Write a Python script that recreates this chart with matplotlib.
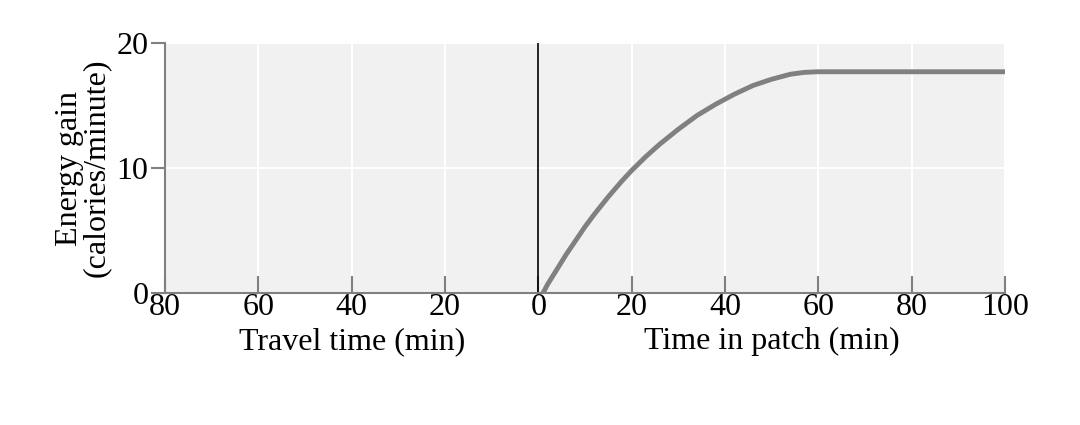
import matplotlib

matplotlib.use("Agg")
import matplotlib.pyplot as plt

plt.rcParams["font.family"] = ["Liberation Serif", "DejaVu Serif"]

# curve (time in patch, energy gain)
patch_time = [1, 2, 4, 6, 8, 10, 12, 15, 18, 20, 23, 26, 30, 34, 38, 42, 46, 50, 54, 57, 60, 70, 80, 90, 100]
energy_gain = [0, 0.7, 1.9, 3.1, 4.2, 5.3, 6.3, 7.7, 9.0, 9.8, 10.9, 11.9, 13.1, 14.2, 15.1, 15.9, 16.6, 17.1, 17.5, 17.65, 17.7, 17.7, 17.7, 17.7, 17.7]
x_ticks = [-80, -60, -40, -20, 0, 20, 40, 60, 80, 100]
y_ticks = [0, 10, 20]

fig = plt.figure(figsize=(10.8, 4.25), dpi=100)
ax = fig.add_axes([165 / 1080, 1 - 293 / 425, 840 / 1080, 250 / 425])
ax.set_facecolor("#f1f1f1")
ax.set_xlim(-80, 100)
ax.set_ylim(0, 20)
for x in x_ticks[1:]:
    ax.axvline(x, color="white", lw=1.5, zorder=0)
for y in y_ticks[1:]:
    ax.axhline(y, color="white", lw=1.5, zorder=0)
ax.axvline(0, color="black", lw=1.2, zorder=2)
ax.plot(patch_time, energy_gain, color="#808080", lw=3.5, solid_capstyle="round", zorder=3)

for s in ["top", "right"]:
    ax.spines[s].set_visible(False)
for s in ["left", "bottom"]:
    ax.spines[s].set_color("#808080")
    ax.spines[s].set_linewidth(1.5)

ax.set_xticks(x_ticks)
ax.set_xticklabels([str(abs(v)) for v in x_ticks])
ax.set_yticks(y_ticks)
ax.tick_params(axis="x", direction="in", length=12, width=1.5, color="#808080",
               labelsize=23, pad=0)
ax.tick_params(axis="y", direction="out", length=10, width=1.5, color="#808080",
               labelsize=23, pad=2)
ax.set_ylabel("Energy gain\n(calories/minute)", fontsize=23, linespacing=0.9, labelpad=4)
ax.text(-40, -2.7, "Travel time (min)", ha="center", va="top", fontsize=23)
ax.text(50, -2.7, "Time in patch (min)", ha="center", va="top", fontsize=23)

fig.savefig("out.png", dpi=100)
